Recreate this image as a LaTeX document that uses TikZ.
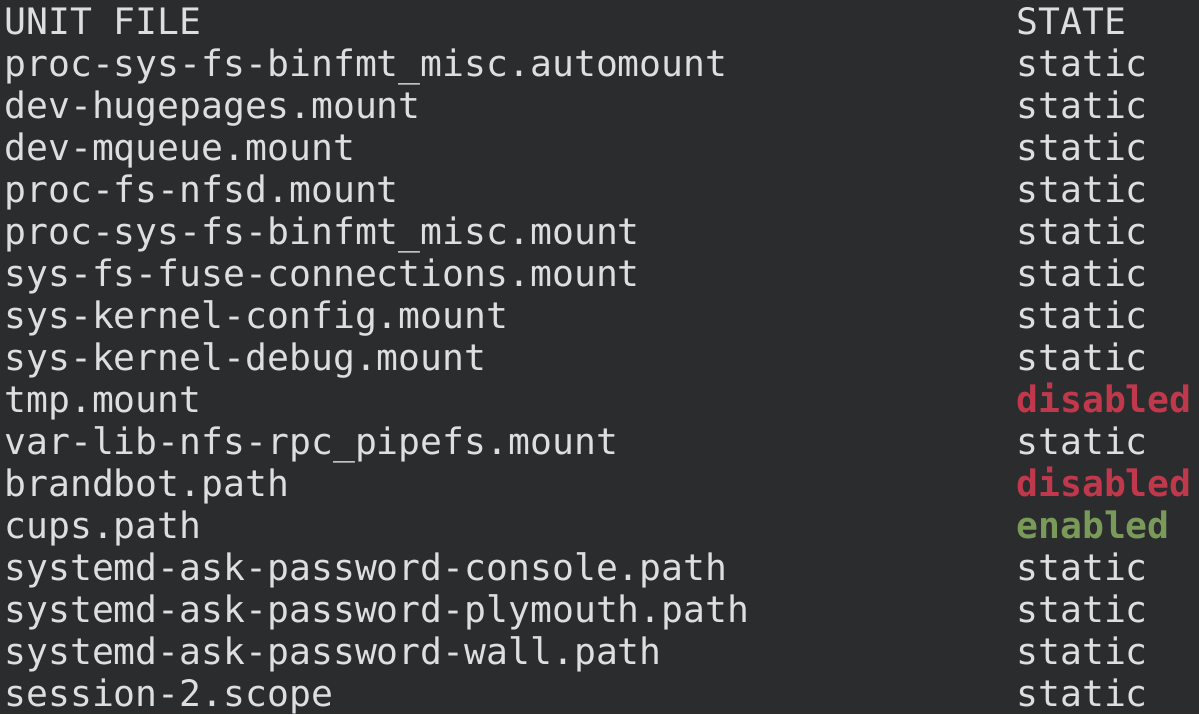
\documentclass[tikz,border=0pt]{standalone}
\usepackage{fontspec}
\setmonofont{DejaVu Sans Mono}
\definecolor{TermBg}{RGB}{43,44,46}
\definecolor{TermFg}{RGB}{222,222,222}
\definecolor{TermRed}{RGB}{192,56,76}
\definecolor{TermGreen}{RGB}{122,154,90}
\tikzset{%
	unit/.style={anchor=base west, inner sep=0pt, text=TermFg,
		font=\ttfamily\fontsize{18.2}{21}\selectfont},
	static/.style={unit},
	disabled/.style={unit, text=TermRed, font=\ttfamily\bfseries\fontsize{18.2}{21}\selectfont},
	enabled/.style={unit, text=TermGreen, font=\ttfamily\bfseries\fontsize{18.2}{21}\selectfont},
}
\begin{document}
\begin{tikzpicture}[x=0.5pt,y=0.5pt]

    \fill[TermBg] (0,0) rectangle (1199,-714);
    \useasboundingbox (0,0) rectangle (1199,-714);

    \node [unit] (Head) at (4,-34) {UNIT FILE};
    \node [unit] (HeadState) at (1016,-34) {STATE};

    \foreach \unitname/\unitstate [count=\i] in {
        proc-sys-fs-binfmt\_misc.automount/static,
        dev-hugepages.mount/static,
        dev-mqueue.mount/static,
        proc-fs-nfsd.mount/static,
        proc-sys-fs-binfmt\_misc.mount/static,
        sys-fs-fuse-connections.mount/static,
        sys-kernel-config.mount/static,
        sys-kernel-debug.mount/static,
        tmp.mount/disabled,
        var-lib-nfs-rpc\_pipefs.mount/static,
        brandbot.path/disabled,
        cups.path/enabled,
        systemd-ask-password-console.path/static,
        systemd-ask-password-plymouth.path/static,
        systemd-ask-password-wall.path/static,
        session-2.scope/static}
    {
        \node [unit] (Unit\i) at (4,-34-42*\i) {\unitname};
        \node [\unitstate] (State\i) at (1016,-34-42*\i) {\unitstate};
    }

\end{tikzpicture}
\end{document}
